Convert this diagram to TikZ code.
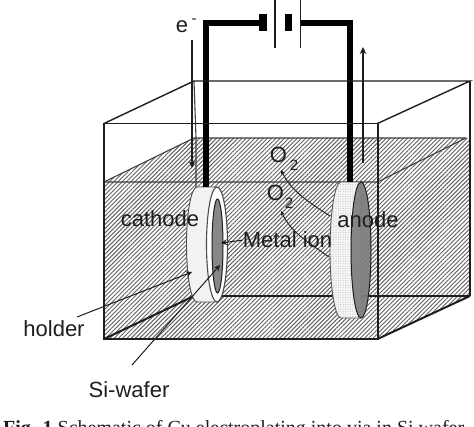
\documentclass[tikz,border=0pt]{standalone}
\usepackage{fontspec}
\setmainfont{Liberation Sans}
\newfontfamily\capfont{Liberation Serif}
\usetikzlibrary{arrows.meta,patterns.meta}
\definecolor{wafer}{RGB}{125,125,125}
\definecolor{ink}{RGB}{30,30,30}
\tikzset{
  >={Stealth[length=7pt,width=6.5pt]},
  hatch/.style={pattern={Lines[angle=45,distance=3pt,line width=.95pt]},pattern color=ink!70},
  edge/.style={draw=ink,line width=1.4pt},
  rear/.style={draw=ink!85,line width=1.1pt},
  wire/.style={draw=black,line width=6pt,line cap=butt,line join=miter},
  plate/.style={fill=black,draw=none,minimum width=7.5pt,minimum height=17pt,inner sep=0pt},
  thinplate/.style={draw=ink,line width=1.2pt},
  flow/.style={->,draw=ink,line width=2.2pt},
  leader/.style={-{Stealth[length=6pt,width=6pt]},draw=ink,line width=1pt},
  curved/.style={-{Stealth[length=4.5pt,width=4pt]},draw=ink,line width=.9pt},
  label/.style={font=\fontsize{22}{24}\selectfont,text=ink,anchor=base,inner sep=0pt},
  sub/.style={font=\fontsize{15}{16}\selectfont,text=ink,anchor=base,inner sep=0pt},
  body/.style={draw=ink!80,line width=.9pt,fill=black!5},
  dotted body/.style={draw=ink!75,line width=.9pt,fill=black!4,
    postaction={pattern={Dots[distance=2.4pt,radius=.4pt]},pattern color=black!35}},
  face/.style={draw=ink,line width=1pt,fill=wafer,fill opacity=.92},
}
\begin{document}
\begin{tikzpicture}[x=1pt,y=-1pt]
  \useasboundingbox (0,0) rectangle (474,427);
  \clip (0,0) rectangle (474,427);
  \fill[white] (0,0) rectangle (474,427);
  % box corners
  \coordinate (ftl) at (104,123.5);
  \coordinate (ftr) at (377.5,123.5);
  \coordinate (fbl) at (104,339);
  \coordinate (fbr) at (377.5,339);
  \coordinate (btl) at (194,81);
  \coordinate (btr) at (470,81);
  \coordinate (bbl) at (194,296);
  \coordinate (bbr) at (470,296);
  % liquid
  \path[hatch] (104,182) -- (194,138) -- (470,138) -- (bbr) -- (fbr) -- (fbl) -- cycle;
  \draw[rear] (104,182) -- (194,138) -- (466,138);
  \draw[rear] (104,182) -- (377.5,182) -- (466,138);
  \draw[rear] (btl) -- (196,138) -- (196,296);
  \draw[edge,line width=1.6pt] (bbl) -- (bbr);
  \draw[edge,line width=2pt] (fbl) -- (bbl);
  % cathode
  \draw[body] (197,187) arc (270:90:10.5 and 57.5) -- (217,302) -- (217,187) -- cycle;
  \draw[body,fill=white,line width=1.1pt] (217,244.5) ellipse (10.5 and 57.5);
  \draw[face] (217.5,246) ellipse (5.5 and 47);
  % anode
  \draw[dotted body] (341,182) arc (270:90:11 and 68) -- (361,318) -- (361,182) -- cycle;
  \draw[face] (361,250) ellipse (10 and 68);
  % battery and wires
  \node[plate] (plateA) at (263,23) {};
  \node[plate] (plateB) at (288.5,23) {};
  \coordinate (longA top) at (275,0);
  \coordinate (longA bot) at (275,48);
  \coordinate (longB top) at (300.5,0);
  \coordinate (longB bot) at (300.5,48);
  \draw[thinplate] (longA top) -- (longA bot);
  \draw[thinplate] (longB top) -- (longB bot);
  \coordinate (wireA end) at (206,187);
  \coordinate (wireB end) at (350,182);
  \draw[wire] (plateA.west) -- (206,23) -- (wireA end);
  \draw[wire] (300.5,23) -- (350,23) -- (wireB end);
  % box front
  \draw[edge] (btl) -- (btr) -- (ftr);
  \draw[edge] (ftl) -- (btl);
  \draw[edge] (ftl) -- (ftr);
  \draw[edge,line width=2pt] (ftl) -- (fbl) -- (fbr) -- (ftr);
  \draw[edge] (bbr) -- (btr);
  \draw[edge,line width=2pt] (fbr) -- (bbr);
  % electron flow
  \coordinate (downA) at (192,40);
  \coordinate (downB) at (192,168);
  \coordinate (upA) at (363,163);
  \coordinate (upB) at (363,47);
  \draw[flow] (downA) -- (downB);
  \draw[flow] (upA) -- (upB);
  % labels
  \node[label] (electron) at (182,33) {e};
  \node[sub] (minus) at (194,23.5) {-};
  \node[label] (cathode) at (160,227) {cathode};
  \node[label] (anode) at (368,228) {anode};
  \node[label] (metal) at (287.5,248) {Metal ion};
  \node[label] (holder) at (54,337) {holder};
  \node[label] (wafer) at (129,398) {Si-wafer};
  \node[label] (oxyA) at (278.5,163) {O};
  \node[sub] (oxyAsub) at (294,171) {2};
  \node[label] (oxyB) at (275.5,201) {O};
  \node[sub] (oxyBsub) at (289,209) {2};
  % leaders
  \coordinate (holder tail) at (77,317);
  \coordinate (holder tip) at (192,272);
  \coordinate (wafer tail) at (132,365);
  \coordinate (wafer tip) at (220,265);
  \coordinate (ion tip) at (221,243);
  \coordinate (oxyA start) at (330,216);
  \coordinate (oxyA end) at (281,170);
  \coordinate (oxyB start) at (329,257);
  \coordinate (oxyB end) at (281,211);
  \draw[leader] (holder tail) -- (holder tip);
  \draw[leader] (wafer tail) -- (wafer tip);
  \draw[leader] (metal.west) -- (ion tip);
  \draw[curved] (oxyA start) .. controls (305,200) and (291,190) .. (oxyA end);
  \draw[curved] (oxyB start) .. controls (305,240) and (291,232) .. (oxyB end);
  % caption, cut off by the page edge
  \node[anchor=base west,inner sep=0pt,font=\fontsize{20}{22}\selectfont\capfont,text=ink] (caption) at (3,435)
    {\textbf{Fig. 1} Schematic of Cu electroplating into via in Si wafer};
\end{tikzpicture}
\end{document}
